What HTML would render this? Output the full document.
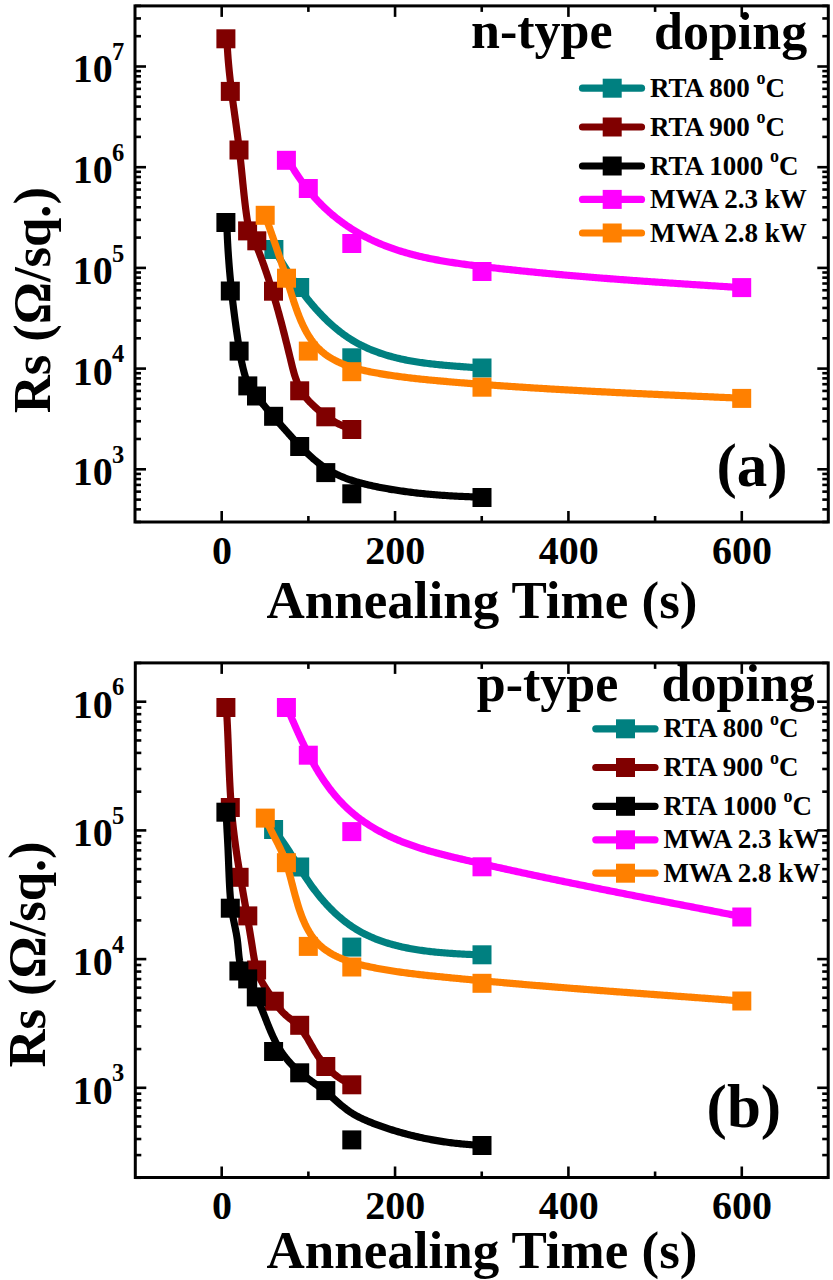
<!DOCTYPE html>
<html><head><meta charset="utf-8"><title>Rs vs annealing time</title>
<style>html,body{margin:0;padding:0;background:#fff;}svg{display:block;}</style>
</head><body>
<svg width="833" height="1280" viewBox="0 0 833 1280">
<rect width="833" height="1280" fill="#fff"/>
<path d="M274.18 249.74 L274.93 250.97 L275.67 252.21 L276.43 253.45 L277.19 254.69 L277.95 255.94 L278.72 257.18 L279.49 258.43 L280.26 259.69 L281.04 260.94 L281.83 262.20 L282.62 263.45 L283.41 264.71 L284.21 265.97 L285.02 267.23 L285.83 268.49 L286.64 269.75 L287.46 271.01 L288.29 272.27 L289.12 273.53 L289.95 274.79 L290.80 276.04 L291.64 277.30 L292.49 278.56 L293.35 279.81 L294.21 281.06 L295.08 282.31 L295.96 283.55 L296.84 284.80 L297.72 286.04 L298.62 287.28 L299.52 288.51 L300.42 289.74 L301.33 290.97 L302.25 292.19 L303.17 293.41 L304.10 294.63 L305.03 295.84 L305.97 297.04 L306.92 298.24 L307.88 299.43 L308.84 300.62 L309.80 301.81 L310.78 302.98 L311.76 304.15 L312.75 305.32 L313.74 306.47 L314.74 307.62 L315.75 308.77 L316.76 309.90 L317.79 311.03 L318.82 312.15 L319.85 313.26 L320.90 314.36 L321.95 315.45 L323.01 316.54 L324.07 317.61 L325.15 318.68 L326.23 319.74 L327.32 320.78 L328.41 321.82 L329.52 322.85 L330.63 323.86 L331.75 324.87 L332.87 325.86 L334.01 326.85 L335.15 327.82 L336.30 328.78 L337.46 329.73 L338.63 330.66 L339.81 331.59 L340.99 332.50 L342.18 333.39 L343.38 334.28 L344.59 335.15 L345.81 336.01 L347.04 336.85 L348.27 337.68 L349.52 338.50 L350.77 339.30 L352.03 340.09 L353.30 340.86 L354.58 341.61 L355.87 342.35 L357.17 343.08 L358.47 343.79 L359.79 344.49 L361.11 345.17 L362.44 345.83 L363.78 346.48 L365.13 347.12 L366.48 347.74 L367.84 348.35 L369.21 348.95 L370.59 349.53 L371.97 350.10 L373.36 350.65 L374.76 351.19 L376.16 351.72 L377.57 352.24 L378.99 352.74 L380.41 353.23 L381.83 353.71 L383.26 354.18 L384.70 354.63 L386.14 355.08 L387.59 355.51 L389.04 355.93 L390.50 356.34 L391.96 356.74 L393.43 357.13 L394.90 357.50 L396.37 357.87 L397.85 358.23 L399.33 358.57 L400.81 358.91 L402.30 359.24 L403.79 359.55 L405.28 359.86 L406.78 360.16 L408.27 360.45 L409.77 360.73 L411.28 361.00 L412.78 361.27 L414.28 361.52 L415.79 361.77 L417.30 362.01 L418.81 362.24 L420.32 362.46 L421.83 362.68 L423.34 362.89 L424.86 363.09 L426.37 363.29 L427.88 363.48 L429.40 363.66 L430.91 363.84 L432.42 364.01 L433.94 364.18 L435.45 364.34 L436.97 364.50 L438.48 364.65 L439.99 364.80 L441.50 364.94 L443.01 365.08 L444.53 365.22 L446.04 365.35 L447.54 365.48 L449.05 365.61 L450.56 365.74 L452.06 365.86 L453.57 365.98 L455.07 366.10 L456.57 366.22 L458.07 366.34 L459.57 366.45 L461.06 366.57 L462.55 366.68 L464.05 366.80 L465.53 366.91 L467.02 367.03 L468.50 367.14 L469.99 367.26 L471.46 367.38 L472.94 367.50 L474.41 367.62 L475.88 367.74 L477.35 367.87 L478.81 368.00 L480.27 368.13 L481.73 368.26" fill="none" stroke="#008080" stroke-width="7.2" stroke-linejoin="round" stroke-linecap="round"/>
<rect x="264.40" y="240.00" width="19.00" height="19.00" fill="#008080"/>
<rect x="290.20" y="278.00" width="19.00" height="19.00" fill="#008080"/>
<rect x="342.30" y="348.30" width="19.00" height="19.00" fill="#008080"/>
<rect x="472.50" y="358.50" width="19.00" height="19.00" fill="#008080"/>
<path d="M226.98 38.74 L227.03 40.25 L227.09 41.77 L227.16 43.29 L227.23 44.80 L227.30 46.31 L227.38 47.83 L227.47 49.34 L227.56 50.85 L227.66 52.36 L227.76 53.87 L227.87 55.38 L227.98 56.89 L228.09 58.39 L228.21 59.90 L228.34 61.41 L228.47 62.91 L228.60 64.42 L228.74 65.92 L228.88 67.43 L229.02 68.93 L229.17 70.43 L229.32 71.93 L229.48 73.44 L229.63 74.94 L229.80 76.44 L229.96 77.94 L230.13 79.44 L230.30 80.94 L230.47 82.44 L230.65 83.94 L230.83 85.43 L231.01 86.93 L231.19 88.43 L231.38 89.93 L231.57 91.42 L231.76 92.92 L231.95 94.42 L232.14 95.91 L232.34 97.41 L232.53 98.91 L232.73 100.40 L232.93 101.90 L233.13 103.39 L233.33 104.89 L233.54 106.38 L233.74 107.88 L233.95 109.37 L234.15 110.87 L234.36 112.36 L234.56 113.86 L234.77 115.35 L234.97 116.85 L235.18 118.34 L235.39 119.84 L235.59 121.33 L235.80 122.83 L236.01 124.33 L236.21 125.82 L236.41 127.32 L236.62 128.81 L236.82 130.31 L237.02 131.81 L237.22 133.30 L237.42 134.80 L237.62 136.30 L237.82 137.79 L238.02 139.29 L238.21 140.79 L238.40 142.29 L238.59 143.79 L238.78 145.29 L238.97 146.78 L239.15 148.28 L239.33 149.78 L239.51 151.29 L239.69 152.79 L239.86 154.29 L240.04 155.79 L240.20 157.29 L240.37 158.80 L240.53 160.30 L240.70 161.80 L240.86 163.31 L241.01 164.81 L241.17 166.32 L241.32 167.82 L241.48 169.33 L241.63 170.83 L241.78 172.34 L241.93 173.84 L242.08 175.35 L242.23 176.86 L242.38 178.36 L242.52 179.87 L242.67 181.37 L242.82 182.87 L242.97 184.38 L243.13 185.88 L243.28 187.39 L243.43 188.89 L243.59 190.39 L243.74 191.89 L243.90 193.39 L244.06 194.89 L244.23 196.39 L244.39 197.89 L244.56 199.39 L244.73 200.89 L244.90 202.38 L245.08 203.88 L245.26 205.37 L245.44 206.87 L245.63 208.36 L245.82 209.85 L246.02 211.34 L246.22 212.83 L246.42 214.31 L246.63 215.80 L246.85 217.28 L247.08 218.76 L247.33 220.24 L247.60 221.71 L247.89 223.17 L248.21 224.62 L248.56 226.07 L248.95 227.50 L249.38 228.92 L249.85 230.33 L250.37 231.73 L250.92 233.11 L251.50 234.49 L252.10 235.87 L252.71 237.24 L253.33 238.61 L253.94 239.99 L254.54 241.37 L255.14 242.76 L255.73 244.15 L256.31 245.54 L256.89 246.94 L257.46 248.34 L258.02 249.75 L258.58 251.15 L259.13 252.56 L259.68 253.98 L260.22 255.39 L260.75 256.81 L261.28 258.23 L261.81 259.65 L262.33 261.07 L262.85 262.49 L263.36 263.92 L263.87 265.34 L264.37 266.77 L264.87 268.19 L265.37 269.62 L265.86 271.05 L266.35 272.48 L266.83 273.91 L267.31 275.34 L267.79 276.77 L268.26 278.20 L268.73 279.63 L269.20 281.06 L269.66 282.50 L270.12 283.93 L270.58 285.37 L271.03 286.81 L271.48 288.24 L271.92 289.68 L272.36 291.12 L272.80 292.56 L273.24 294.00 L273.67 295.45 L274.10 296.89 L274.53 298.33 L274.96 299.78 L275.38 301.22 L275.80 302.67 L276.21 304.11 L276.63 305.56 L277.04 307.01 L277.45 308.46 L277.85 309.91 L278.26 311.36 L278.66 312.81 L279.06 314.27 L279.45 315.72 L279.85 317.17 L280.24 318.63 L280.63 320.09 L281.02 321.54 L281.41 323.00 L281.79 324.46 L282.18 325.92 L282.56 327.38 L282.94 328.84 L283.31 330.30 L283.69 331.76 L284.07 333.23 L284.44 334.69 L284.81 336.16 L285.18 337.62 L285.55 339.09 L285.92 340.56 L286.29 342.03 L286.65 343.50 L287.02 344.97 L287.38 346.44 L287.74 347.91 L288.10 349.38 L288.47 350.86 L288.83 352.33 L289.19 353.81 L289.54 355.28 L289.90 356.76 L290.26 358.24 L290.62 359.72 L290.97 361.20 L291.33 362.67 L291.69 364.15 L292.05 365.63 L292.42 367.10 L292.80 368.57 L293.19 370.04 L293.59 371.50 L294.00 372.95 L294.42 374.39 L294.87 375.83 L295.33 377.25 L295.81 378.67 L296.31 380.07 L296.83 381.45 L297.38 382.83 L297.96 384.19 L298.56 385.53 L299.19 386.85 L299.86 388.16 L300.55 389.45 L301.27 390.73 L302.03 391.98 L302.82 393.22 L303.64 394.44 L304.49 395.65 L305.37 396.83 L306.29 398.00 L307.24 399.15 L308.23 400.28 L309.24 401.40 L310.29 402.50 L311.36 403.58 L312.45 404.65 L313.55 405.70 L314.67 406.74 L315.80 407.77 L316.93 408.78 L318.08 409.78 L319.23 410.77 L320.39 411.74 L321.56 412.70 L322.74 413.64 L323.93 414.56 L325.13 415.47 L326.34 416.36 L327.56 417.23 L328.79 418.09 L330.03 418.92 L331.29 419.74 L332.56 420.53 L333.84 421.30 L335.14 422.05 L336.44 422.78 L337.77 423.49 L339.10 424.17 L340.45 424.83 L341.82 425.46 L343.20 426.07 L344.60 426.66 L346.01 427.21 L347.44 427.75 L348.89 428.25 L350.36 428.72 L351.84 429.17" fill="none" stroke="#800000" stroke-width="7.2" stroke-linejoin="round" stroke-linecap="round"/>
<rect x="216.40" y="29.30" width="19.00" height="19.00" fill="#800000"/>
<rect x="220.80" y="81.90" width="19.00" height="19.00" fill="#800000"/>
<rect x="229.50" y="140.50" width="19.00" height="19.00" fill="#800000"/>
<rect x="238.10" y="221.40" width="19.00" height="19.00" fill="#800000"/>
<rect x="247.30" y="231.30" width="19.00" height="19.00" fill="#800000"/>
<rect x="264.00" y="281.70" width="19.00" height="19.00" fill="#800000"/>
<rect x="290.20" y="381.30" width="19.00" height="19.00" fill="#800000"/>
<rect x="316.30" y="407.30" width="19.00" height="19.00" fill="#800000"/>
<rect x="342.30" y="420.00" width="19.00" height="19.00" fill="#800000"/>
<path d="M226.82 222.41 L226.86 223.93 L226.91 225.45 L226.96 226.96 L227.01 228.48 L227.06 229.99 L227.12 231.51 L227.18 233.02 L227.24 234.53 L227.31 236.04 L227.37 237.55 L227.44 239.06 L227.52 240.57 L227.60 242.07 L227.68 243.58 L227.76 245.09 L227.84 246.59 L227.93 248.10 L228.02 249.60 L228.11 251.10 L228.21 252.61 L228.31 254.11 L228.41 255.61 L228.51 257.11 L228.62 258.61 L228.73 260.11 L228.84 261.61 L228.96 263.11 L229.07 264.61 L229.19 266.10 L229.31 267.60 L229.44 269.10 L229.57 270.59 L229.70 272.09 L229.83 273.58 L229.96 275.08 L230.10 276.57 L230.24 278.07 L230.38 279.56 L230.52 281.06 L230.67 282.55 L230.82 284.04 L230.97 285.54 L231.12 287.03 L231.28 288.52 L231.43 290.02 L231.59 291.51 L231.76 293.00 L231.92 294.49 L232.09 295.99 L232.26 297.48 L232.43 298.97 L232.60 300.46 L232.77 301.95 L232.95 303.45 L233.13 304.94 L233.31 306.43 L233.50 307.92 L233.68 309.41 L233.87 310.91 L234.06 312.40 L234.25 313.89 L234.44 315.38 L234.64 316.88 L234.84 318.37 L235.04 319.86 L235.24 321.36 L235.44 322.85 L235.65 324.34 L235.85 325.84 L236.06 327.33 L236.27 328.83 L236.48 330.32 L236.70 331.82 L236.91 333.31 L237.13 334.81 L237.35 336.31 L237.57 337.80 L237.79 339.30 L238.02 340.80 L238.25 342.30 L238.47 343.80 L238.71 345.30 L238.94 346.79 L239.18 348.29 L239.42 349.79 L239.67 351.28 L239.93 352.77 L240.19 354.26 L240.46 355.75 L240.73 357.24 L241.01 358.72 L241.31 360.20 L241.61 361.68 L241.91 363.15 L242.23 364.62 L242.56 366.08 L242.90 367.54 L243.26 369.00 L243.62 370.45 L244.00 371.89 L244.39 373.33 L244.79 374.76 L245.22 376.18 L245.67 377.59 L246.15 378.99 L246.66 380.36 L247.21 381.72 L247.81 383.06 L248.45 384.37 L249.14 385.66 L249.89 386.92 L250.68 388.15 L251.51 389.37 L252.37 390.57 L253.25 391.76 L254.14 392.95 L255.03 394.13 L255.94 395.31 L256.85 396.49 L257.76 397.66 L258.68 398.83 L259.61 400.00 L260.54 401.16 L261.48 402.33 L262.42 403.49 L263.36 404.64 L264.32 405.80 L265.27 406.95 L266.23 408.10 L267.20 409.25 L268.16 410.40 L269.14 411.55 L270.11 412.69 L271.09 413.83 L272.07 414.97 L273.06 416.11 L274.05 417.25 L275.04 418.39 L276.03 419.53 L277.03 420.66 L278.03 421.79 L279.03 422.93 L280.04 424.06 L281.04 425.19 L282.05 426.32 L283.06 427.45 L284.07 428.58 L285.08 429.71 L286.09 430.84 L287.10 431.97 L288.12 433.10 L289.13 434.23 L290.15 435.36 L291.16 436.49 L292.18 437.61 L293.21 438.74 L294.23 439.86 L295.26 440.97 L296.29 442.09 L297.32 443.19 L298.36 444.30 L299.40 445.39 L300.44 446.48 L301.49 447.57 L302.55 448.65 L303.61 449.72 L304.68 450.78 L305.75 451.83 L306.83 452.87 L307.92 453.91 L309.01 454.93 L310.11 455.94 L311.22 456.94 L312.33 457.93 L313.46 458.91 L314.59 459.87 L315.74 460.83 L316.89 461.76 L318.05 462.68 L319.22 463.59 L320.40 464.48 L321.60 465.36 L322.80 466.22 L324.02 467.06 L325.24 467.88 L326.48 468.69 L327.73 469.48 L329.00 470.25 L330.27 470.99 L331.56 471.72 L332.87 472.43 L334.18 473.12 L335.51 473.79 L336.85 474.44 L338.20 475.08 L339.56 475.69 L340.93 476.29 L342.31 476.87 L343.70 477.44 L345.10 477.99 L346.51 478.52 L347.93 479.04 L349.35 479.54 L350.79 480.03 L352.23 480.51 L353.67 480.97 L355.12 481.42 L356.58 481.85 L358.05 482.28 L359.51 482.69 L360.99 483.09 L362.46 483.48 L363.95 483.86 L365.43 484.23 L366.92 484.59 L368.41 484.94 L369.90 485.28 L371.39 485.61 L372.89 485.94 L374.38 486.25 L375.88 486.56 L377.38 486.87 L378.87 487.16 L380.37 487.45 L381.86 487.74 L383.35 488.02 L384.85 488.29 L386.34 488.56 L387.83 488.82 L389.31 489.08 L390.80 489.33 L392.29 489.58 L393.78 489.82 L395.26 490.06 L396.75 490.29 L398.23 490.52 L399.72 490.74 L401.20 490.96 L402.69 491.17 L404.17 491.38 L405.65 491.58 L407.14 491.78 L408.62 491.98 L410.10 492.17 L411.58 492.35 L413.07 492.53 L414.55 492.71 L416.03 492.88 L417.51 493.05 L419.00 493.22 L420.48 493.38 L421.97 493.53 L423.45 493.68 L424.93 493.83 L426.42 493.98 L427.90 494.12 L429.39 494.25 L430.88 494.39 L432.37 494.52 L433.85 494.64 L435.34 494.77 L436.83 494.89 L438.32 495.00 L439.82 495.11 L441.31 495.22 L442.80 495.33 L444.30 495.43 L445.79 495.53 L447.29 495.63 L448.79 495.73 L450.29 495.82 L451.79 495.90 L453.30 495.99 L454.80 496.07 L456.31 496.15 L457.82 496.23 L459.33 496.31 L460.84 496.38 L462.35 496.45 L463.86 496.52 L465.38 496.58 L466.90 496.65 L468.42 496.71 L469.94 496.77 L471.47 496.82 L473.00 496.88 L474.53 496.93 L476.06 496.98 L477.59 497.03 L479.13 497.08 L480.67 497.13 L482.21 497.17" fill="none" stroke="#000000" stroke-width="7.2" stroke-linejoin="round" stroke-linecap="round"/>
<rect x="216.40" y="213.00" width="19.00" height="19.00" fill="#000000"/>
<rect x="220.80" y="281.50" width="19.00" height="19.00" fill="#000000"/>
<rect x="229.60" y="341.60" width="19.00" height="19.00" fill="#000000"/>
<rect x="238.30" y="376.40" width="19.00" height="19.00" fill="#000000"/>
<rect x="247.00" y="386.50" width="19.00" height="19.00" fill="#000000"/>
<rect x="264.10" y="406.80" width="19.00" height="19.00" fill="#000000"/>
<rect x="290.20" y="437.00" width="19.00" height="19.00" fill="#000000"/>
<rect x="316.30" y="463.10" width="19.00" height="19.00" fill="#000000"/>
<rect x="342.30" y="484.30" width="19.00" height="19.00" fill="#000000"/>
<rect x="472.50" y="488.00" width="19.00" height="19.00" fill="#000000"/>
<path d="M287.67 159.36 L288.42 160.66 L289.17 161.96 L289.93 163.26 L290.70 164.55 L291.47 165.84 L292.26 167.13 L293.05 168.41 L293.85 169.69 L294.66 170.96 L295.48 172.23 L296.31 173.49 L297.15 174.75 L297.99 176.01 L298.84 177.26 L299.70 178.50 L300.57 179.74 L301.45 180.97 L302.34 182.20 L303.23 183.42 L304.14 184.63 L305.05 185.84 L305.97 187.04 L306.90 188.23 L307.84 189.42 L308.79 190.60 L309.75 191.77 L310.72 192.94 L311.69 194.09 L312.67 195.24 L313.67 196.39 L314.67 197.52 L315.68 198.64 L316.70 199.76 L317.73 200.87 L318.77 201.97 L319.82 203.05 L320.88 204.13 L321.94 205.21 L323.02 206.27 L324.10 207.32 L325.20 208.36 L326.30 209.39 L327.41 210.41 L328.53 211.42 L329.67 212.42 L330.80 213.41 L331.95 214.40 L333.11 215.37 L334.27 216.33 L335.44 217.28 L336.62 218.22 L337.81 219.15 L339.01 220.07 L340.21 220.98 L341.42 221.88 L342.64 222.77 L343.87 223.64 L345.10 224.51 L346.34 225.37 L347.58 226.22 L348.84 227.05 L350.10 227.88 L351.36 228.69 L352.63 229.50 L353.91 230.29 L355.20 231.08 L356.49 231.85 L357.78 232.61 L359.08 233.36 L360.39 234.10 L361.70 234.83 L363.02 235.55 L364.34 236.26 L365.67 236.95 L367.01 237.64 L368.34 238.32 L369.68 238.98 L371.03 239.63 L372.38 240.27 L373.74 240.91 L375.10 241.53 L376.46 242.14 L377.83 242.74 L379.20 243.32 L380.57 243.90 L381.95 244.47 L383.34 245.03 L384.72 245.58 L386.12 246.12 L387.51 246.65 L388.91 247.17 L390.31 247.68 L391.72 248.18 L393.13 248.68 L394.54 249.16 L395.95 249.63 L397.37 250.10 L398.80 250.56 L400.22 251.01 L401.65 251.45 L403.08 251.88 L404.52 252.31 L405.95 252.72 L407.39 253.13 L408.84 253.53 L410.28 253.93 L411.73 254.31 L413.18 254.69 L414.64 255.06 L416.09 255.43 L417.55 255.79 L419.01 256.14 L420.48 256.48 L421.94 256.82 L423.41 257.15 L424.88 257.48 L426.35 257.80 L427.83 258.11 L429.30 258.42 L430.78 258.72 L432.26 259.02 L433.74 259.31 L435.23 259.59 L436.71 259.87 L438.20 260.15 L439.69 260.42 L441.18 260.68 L442.67 260.94 L444.16 261.20 L445.66 261.45 L447.15 261.69 L448.65 261.94 L450.15 262.18 L451.65 262.41 L453.15 262.64 L454.65 262.87 L456.15 263.09 L457.65 263.31 L459.16 263.53 L460.66 263.74 L462.16 263.95 L463.67 264.16 L465.18 264.36 L466.68 264.56 L468.19 264.76 L469.70 264.96 L471.21 265.15 L472.71 265.34 L474.22 265.53 L475.73 265.72 L477.24 265.91 L478.75 266.09 L480.25 266.28 L481.76 266.46 L483.27 266.64 L484.78 266.82 L486.29 266.99 L487.79 267.17 L489.30 267.35 L490.81 267.52 L492.31 267.70 L493.82 267.87 L495.33 268.04 L496.83 268.21 L498.34 268.38 L499.84 268.55 L501.35 268.72 L502.85 268.88 L504.36 269.05 L505.86 269.21 L507.36 269.38 L508.87 269.54 L510.37 269.70 L511.87 269.87 L513.38 270.03 L514.88 270.19 L516.38 270.34 L517.88 270.50 L519.39 270.66 L520.89 270.81 L522.39 270.97 L523.89 271.12 L525.39 271.28 L526.89 271.43 L528.40 271.58 L529.90 271.73 L531.40 271.88 L532.90 272.03 L534.40 272.18 L535.90 272.33 L537.40 272.47 L538.90 272.62 L540.40 272.76 L541.90 272.91 L543.40 273.05 L544.90 273.19 L546.40 273.33 L547.90 273.48 L549.40 273.62 L550.90 273.76 L552.39 273.89 L553.89 274.03 L555.39 274.17 L556.89 274.31 L558.39 274.44 L559.89 274.58 L561.39 274.71 L562.88 274.85 L564.38 274.98 L565.88 275.11 L567.38 275.24 L568.88 275.37 L570.38 275.50 L571.87 275.63 L573.37 275.76 L574.87 275.89 L576.37 276.02 L577.87 276.15 L579.36 276.27 L580.86 276.40 L582.36 276.52 L583.86 276.65 L585.35 276.77 L586.85 276.90 L588.35 277.02 L589.85 277.14 L591.35 277.26 L592.84 277.39 L594.34 277.51 L595.84 277.63 L597.34 277.75 L598.83 277.86 L600.33 277.98 L601.83 278.10 L603.33 278.22 L604.83 278.34 L606.33 278.45 L607.82 278.57 L609.32 278.68 L610.82 278.80 L612.32 278.91 L613.82 279.03 L615.32 279.14 L616.81 279.25 L618.31 279.37 L619.81 279.48 L621.31 279.59 L622.81 279.70 L624.31 279.81 L625.81 279.92 L627.31 280.03 L628.81 280.14 L630.31 280.25 L631.81 280.36 L633.31 280.47 L634.81 280.58 L636.31 280.68 L637.81 280.79 L639.31 280.90 L640.81 281.00 L642.31 281.11 L643.81 281.22 L645.31 281.32 L646.81 281.43 L648.31 281.53 L649.81 281.64 L651.31 281.74 L652.82 281.85 L654.32 281.95 L655.82 282.05 L657.32 282.16 L658.83 282.26 L660.33 282.36 L661.83 282.46 L663.34 282.57 L664.84 282.67 L666.34 282.77 L667.85 282.87 L669.35 282.97 L670.86 283.07 L672.36 283.17 L673.87 283.27 L675.37 283.37 L676.88 283.47 L678.38 283.57 L679.89 283.67 L681.39 283.77 L682.90 283.87 L684.41 283.97 L685.91 284.07 L687.42 284.17 L688.93 284.27 L690.44 284.37 L691.95 284.47 L693.45 284.57 L694.96 284.66 L696.47 284.76 L697.98 284.86 L699.49 284.96 L701.00 285.06 L702.51 285.15 L704.02 285.25 L705.53 285.35 L707.04 285.45 L708.56 285.54 L710.07 285.64 L711.58 285.74 L713.09 285.84 L714.61 285.93 L716.12 286.03 L717.63 286.13 L719.15 286.23 L720.66 286.32 L722.18 286.42 L723.69 286.52 L725.21 286.62 L726.73 286.71 L728.24 286.81 L729.76 286.91 L731.28 287.01 L732.80 287.10 L734.31 287.20 L735.83 287.30 L737.35 287.40 L738.87 287.50 L740.39 287.59 L741.91 287.69" fill="none" stroke="#FF00FF" stroke-width="7.2" stroke-linejoin="round" stroke-linecap="round"/>
<rect x="276.90" y="150.80" width="19.00" height="19.00" fill="#FF00FF"/>
<rect x="298.80" y="179.00" width="19.00" height="19.00" fill="#FF00FF"/>
<rect x="342.30" y="234.00" width="19.00" height="19.00" fill="#FF00FF"/>
<rect x="472.50" y="262.00" width="19.00" height="19.00" fill="#FF00FF"/>
<rect x="732.20" y="278.10" width="19.00" height="19.00" fill="#FF00FF"/>
<path d="M265.07 215.26 L265.59 216.71 L266.10 218.17 L266.62 219.61 L267.13 221.06 L267.64 222.50 L268.15 223.94 L268.66 225.37 L269.16 226.81 L269.67 228.24 L270.17 229.66 L270.67 231.09 L271.17 232.52 L271.66 233.94 L272.16 235.36 L272.65 236.78 L273.14 238.19 L273.63 239.61 L274.12 241.03 L274.61 242.44 L275.09 243.85 L275.58 245.26 L276.06 246.68 L276.54 248.09 L277.02 249.50 L277.50 250.91 L277.97 252.32 L278.45 253.73 L278.92 255.14 L279.40 256.55 L279.87 257.96 L280.34 259.37 L280.81 260.78 L281.28 262.20 L281.74 263.61 L282.21 265.03 L282.67 266.44 L283.14 267.86 L283.60 269.28 L284.06 270.70 L284.52 272.12 L284.98 273.55 L285.44 274.98 L285.89 276.40 L286.35 277.84 L286.81 279.27 L287.26 280.71 L287.72 282.15 L288.17 283.59 L288.62 285.03 L289.07 286.48 L289.52 287.93 L289.97 289.39 L290.43 290.84 L290.88 292.30 L291.34 293.76 L291.79 295.22 L292.25 296.69 L292.72 298.15 L293.19 299.61 L293.66 301.07 L294.14 302.53 L294.63 303.99 L295.12 305.44 L295.62 306.90 L296.12 308.35 L296.64 309.80 L297.17 311.24 L297.70 312.68 L298.25 314.12 L298.80 315.55 L299.37 316.98 L299.95 318.40 L300.54 319.82 L301.15 321.23 L301.77 322.63 L302.40 324.02 L303.05 325.41 L303.71 326.78 L304.39 328.14 L305.09 329.50 L305.80 330.84 L306.53 332.16 L307.28 333.47 L308.04 334.77 L308.82 336.04 L309.62 337.30 L310.44 338.54 L311.28 339.77 L312.14 340.97 L313.02 342.15 L313.92 343.30 L314.85 344.43 L315.79 345.54 L316.75 346.62 L317.74 347.68 L318.75 348.71 L319.79 349.71 L320.84 350.68 L321.92 351.63 L323.02 352.55 L324.14 353.44 L325.28 354.31 L326.44 355.15 L327.62 355.97 L328.82 356.76 L330.03 357.53 L331.27 358.28 L332.52 359.00 L333.79 359.71 L335.07 360.39 L336.37 361.05 L337.68 361.69 L339.01 362.31 L340.35 362.91 L341.71 363.49 L343.08 364.05 L344.46 364.60 L345.85 365.13 L347.26 365.64 L348.67 366.13 L350.10 366.61 L351.53 367.07 L352.97 367.52 L354.42 367.95 L355.88 368.37 L357.35 368.78 L358.82 369.17 L360.30 369.55 L361.79 369.92 L363.28 370.28 L364.78 370.62 L366.28 370.96 L367.78 371.29 L369.29 371.60 L370.80 371.91 L372.31 372.21 L373.82 372.50 L375.34 372.78 L376.85 373.06 L378.37 373.33 L379.88 373.60 L381.39 373.86 L382.90 374.11 L384.42 374.36 L385.92 374.61 L387.43 374.84 L388.94 375.08 L390.45 375.31 L391.95 375.53 L393.46 375.75 L394.96 375.97 L396.46 376.18 L397.96 376.39 L399.47 376.59 L400.97 376.79 L402.47 376.99 L403.96 377.18 L405.46 377.37 L406.96 377.55 L408.46 377.73 L409.95 377.91 L411.45 378.09 L412.94 378.26 L414.44 378.43 L415.93 378.59 L417.43 378.76 L418.92 378.92 L420.41 379.07 L421.91 379.23 L423.40 379.38 L424.89 379.53 L426.39 379.68 L427.88 379.83 L429.37 379.97 L430.86 380.11 L432.35 380.25 L433.84 380.39 L435.34 380.53 L436.83 380.67 L438.32 380.80 L439.81 380.94 L441.30 381.07 L442.80 381.20 L444.29 381.33 L445.78 381.46 L447.27 381.59 L448.77 381.72 L450.26 381.84 L451.75 381.97 L453.25 382.10 L454.74 382.22 L456.24 382.35 L457.73 382.47 L459.22 382.60 L460.72 382.72 L462.21 382.84 L463.71 382.96 L465.20 383.08 L466.70 383.20 L468.20 383.32 L469.69 383.44 L471.19 383.56 L472.68 383.68 L474.18 383.79 L475.68 383.91 L477.17 384.02 L478.67 384.14 L480.17 384.25 L481.67 384.37 L483.16 384.48 L484.66 384.59 L486.16 384.70 L487.66 384.81 L489.16 384.93 L490.65 385.04 L492.15 385.14 L493.65 385.25 L495.15 385.36 L496.65 385.47 L498.15 385.58 L499.65 385.68 L501.15 385.79 L502.65 385.89 L504.15 386.00 L505.65 386.10 L507.15 386.21 L508.65 386.31 L510.15 386.41 L511.65 386.51 L513.15 386.61 L514.65 386.71 L516.15 386.81 L517.65 386.91 L519.16 387.01 L520.66 387.11 L522.16 387.21 L523.66 387.31 L525.16 387.41 L526.66 387.50 L528.17 387.60 L529.67 387.69 L531.17 387.79 L532.67 387.88 L534.18 387.98 L535.68 388.07 L537.18 388.17 L538.68 388.26 L540.19 388.35 L541.69 388.44 L543.19 388.53 L544.70 388.62 L546.20 388.71 L547.70 388.81 L549.21 388.89 L550.71 388.98 L552.21 389.07 L553.72 389.16 L555.22 389.25 L556.73 389.34 L558.23 389.42 L559.73 389.51 L561.24 389.60 L562.74 389.68 L564.25 389.77 L565.75 389.85 L567.25 389.94 L568.76 390.02 L570.26 390.11 L571.77 390.19 L573.27 390.27 L574.78 390.36 L576.28 390.44 L577.79 390.52 L579.29 390.60 L580.80 390.68 L582.30 390.76 L583.81 390.84 L585.31 390.93 L586.81 391.01 L588.32 391.08 L589.82 391.16 L591.33 391.24 L592.84 391.32 L594.34 391.40 L595.85 391.48 L597.35 391.56 L598.86 391.63 L600.36 391.71 L601.87 391.79 L603.37 391.86 L604.88 391.94 L606.38 392.02 L607.89 392.09 L609.39 392.17 L610.90 392.24 L612.40 392.32 L613.91 392.39 L615.41 392.47 L616.92 392.54 L618.42 392.62 L619.93 392.69 L621.43 392.76 L622.94 392.84 L624.44 392.91 L625.95 392.98 L627.45 393.05 L628.96 393.13 L630.46 393.20 L631.97 393.27 L633.47 393.34 L634.98 393.41 L636.48 393.49 L637.99 393.56 L639.49 393.63 L641.00 393.70 L642.50 393.77 L644.01 393.84 L645.51 393.91 L647.02 393.98 L648.52 394.05 L650.02 394.12 L651.53 394.19 L653.03 394.26 L654.54 394.33 L656.04 394.40 L657.55 394.47 L659.05 394.54 L660.55 394.60 L662.06 394.67 L663.56 394.74 L665.07 394.81 L666.57 394.88 L668.07 394.95 L669.58 395.02 L671.08 395.08 L672.58 395.15 L674.09 395.22 L675.59 395.29 L677.09 395.35 L678.60 395.42 L680.10 395.49 L681.60 395.56 L683.10 395.62 L684.61 395.69 L686.11 395.76 L687.61 395.83 L689.11 395.89 L690.62 395.96 L692.12 396.03 L693.62 396.09 L695.12 396.16 L696.62 396.23 L698.13 396.30 L699.63 396.36 L701.13 396.43 L702.63 396.50 L704.13 396.56 L705.63 396.63 L707.13 396.70 L708.63 396.76 L710.13 396.83 L711.63 396.90 L713.13 396.97 L714.63 397.03 L716.13 397.10 L717.63 397.17 L719.13 397.23 L720.63 397.30 L722.13 397.37 L723.63 397.44 L725.13 397.50 L726.63 397.57 L728.13 397.64 L729.63 397.70 L731.13 397.77 L732.62 397.84 L734.12 397.91 L735.62 397.98 L737.12 398.04 L738.61 398.11 L740.11 398.18 L741.61 398.25" fill="none" stroke="#FF8000" stroke-width="7.2" stroke-linejoin="round" stroke-linecap="round"/>
<rect x="255.70" y="205.80" width="19.00" height="19.00" fill="#FF8000"/>
<rect x="277.00" y="268.70" width="19.00" height="19.00" fill="#FF8000"/>
<rect x="298.80" y="341.60" width="19.00" height="19.00" fill="#FF8000"/>
<rect x="342.30" y="362.20" width="19.00" height="19.00" fill="#FF8000"/>
<rect x="472.50" y="377.70" width="19.00" height="19.00" fill="#FF8000"/>
<rect x="732.20" y="388.90" width="19.00" height="19.00" fill="#FF8000"/>
<g stroke="#000" stroke-width="2.6" fill="none"><line x1="135.00" y1="521.95" x2="141.00" y2="521.95"/><line x1="828.30" y1="521.95" x2="822.30" y2="521.95"/><line x1="135.00" y1="509.37" x2="141.00" y2="509.37"/><line x1="828.30" y1="509.37" x2="822.30" y2="509.37"/><line x1="135.00" y1="499.61" x2="141.00" y2="499.61"/><line x1="828.30" y1="499.61" x2="822.30" y2="499.61"/><line x1="135.00" y1="491.64" x2="141.00" y2="491.64"/><line x1="828.30" y1="491.64" x2="822.30" y2="491.64"/><line x1="135.00" y1="484.90" x2="141.00" y2="484.90"/><line x1="828.30" y1="484.90" x2="822.30" y2="484.90"/><line x1="135.00" y1="479.06" x2="141.00" y2="479.06"/><line x1="828.30" y1="479.06" x2="822.30" y2="479.06"/><line x1="135.00" y1="473.91" x2="141.00" y2="473.91"/><line x1="828.30" y1="473.91" x2="822.30" y2="473.91"/><line x1="135.00" y1="469.30" x2="146.00" y2="469.30"/><line x1="828.30" y1="469.30" x2="817.30" y2="469.30"/><line x1="135.00" y1="438.99" x2="141.00" y2="438.99"/><line x1="828.30" y1="438.99" x2="822.30" y2="438.99"/><line x1="135.00" y1="421.25" x2="141.00" y2="421.25"/><line x1="828.30" y1="421.25" x2="822.30" y2="421.25"/><line x1="135.00" y1="408.67" x2="141.00" y2="408.67"/><line x1="828.30" y1="408.67" x2="822.30" y2="408.67"/><line x1="135.00" y1="398.91" x2="141.00" y2="398.91"/><line x1="828.30" y1="398.91" x2="822.30" y2="398.91"/><line x1="135.00" y1="390.94" x2="141.00" y2="390.94"/><line x1="828.30" y1="390.94" x2="822.30" y2="390.94"/><line x1="135.00" y1="384.20" x2="141.00" y2="384.20"/><line x1="828.30" y1="384.20" x2="822.30" y2="384.20"/><line x1="135.00" y1="378.36" x2="141.00" y2="378.36"/><line x1="828.30" y1="378.36" x2="822.30" y2="378.36"/><line x1="135.00" y1="373.21" x2="141.00" y2="373.21"/><line x1="828.30" y1="373.21" x2="822.30" y2="373.21"/><line x1="135.00" y1="368.60" x2="146.00" y2="368.60"/><line x1="828.30" y1="368.60" x2="817.30" y2="368.60"/><line x1="135.00" y1="338.29" x2="141.00" y2="338.29"/><line x1="828.30" y1="338.29" x2="822.30" y2="338.29"/><line x1="135.00" y1="320.55" x2="141.00" y2="320.55"/><line x1="828.30" y1="320.55" x2="822.30" y2="320.55"/><line x1="135.00" y1="307.97" x2="141.00" y2="307.97"/><line x1="828.30" y1="307.97" x2="822.30" y2="307.97"/><line x1="135.00" y1="298.21" x2="141.00" y2="298.21"/><line x1="828.30" y1="298.21" x2="822.30" y2="298.21"/><line x1="135.00" y1="290.24" x2="141.00" y2="290.24"/><line x1="828.30" y1="290.24" x2="822.30" y2="290.24"/><line x1="135.00" y1="283.50" x2="141.00" y2="283.50"/><line x1="828.30" y1="283.50" x2="822.30" y2="283.50"/><line x1="135.00" y1="277.66" x2="141.00" y2="277.66"/><line x1="828.30" y1="277.66" x2="822.30" y2="277.66"/><line x1="135.00" y1="272.51" x2="141.00" y2="272.51"/><line x1="828.30" y1="272.51" x2="822.30" y2="272.51"/><line x1="135.00" y1="267.90" x2="146.00" y2="267.90"/><line x1="828.30" y1="267.90" x2="817.30" y2="267.90"/><line x1="135.00" y1="237.59" x2="141.00" y2="237.59"/><line x1="828.30" y1="237.59" x2="822.30" y2="237.59"/><line x1="135.00" y1="219.85" x2="141.00" y2="219.85"/><line x1="828.30" y1="219.85" x2="822.30" y2="219.85"/><line x1="135.00" y1="207.27" x2="141.00" y2="207.27"/><line x1="828.30" y1="207.27" x2="822.30" y2="207.27"/><line x1="135.00" y1="197.51" x2="141.00" y2="197.51"/><line x1="828.30" y1="197.51" x2="822.30" y2="197.51"/><line x1="135.00" y1="189.54" x2="141.00" y2="189.54"/><line x1="828.30" y1="189.54" x2="822.30" y2="189.54"/><line x1="135.00" y1="182.80" x2="141.00" y2="182.80"/><line x1="828.30" y1="182.80" x2="822.30" y2="182.80"/><line x1="135.00" y1="176.96" x2="141.00" y2="176.96"/><line x1="828.30" y1="176.96" x2="822.30" y2="176.96"/><line x1="135.00" y1="171.81" x2="141.00" y2="171.81"/><line x1="828.30" y1="171.81" x2="822.30" y2="171.81"/><line x1="135.00" y1="167.20" x2="146.00" y2="167.20"/><line x1="828.30" y1="167.20" x2="817.30" y2="167.20"/><line x1="135.00" y1="136.89" x2="141.00" y2="136.89"/><line x1="828.30" y1="136.89" x2="822.30" y2="136.89"/><line x1="135.00" y1="119.15" x2="141.00" y2="119.15"/><line x1="828.30" y1="119.15" x2="822.30" y2="119.15"/><line x1="135.00" y1="106.57" x2="141.00" y2="106.57"/><line x1="828.30" y1="106.57" x2="822.30" y2="106.57"/><line x1="135.00" y1="96.81" x2="141.00" y2="96.81"/><line x1="828.30" y1="96.81" x2="822.30" y2="96.81"/><line x1="135.00" y1="88.84" x2="141.00" y2="88.84"/><line x1="828.30" y1="88.84" x2="822.30" y2="88.84"/><line x1="135.00" y1="82.10" x2="141.00" y2="82.10"/><line x1="828.30" y1="82.10" x2="822.30" y2="82.10"/><line x1="135.00" y1="76.26" x2="141.00" y2="76.26"/><line x1="828.30" y1="76.26" x2="822.30" y2="76.26"/><line x1="135.00" y1="71.11" x2="141.00" y2="71.11"/><line x1="828.30" y1="71.11" x2="822.30" y2="71.11"/><line x1="135.00" y1="66.50" x2="146.00" y2="66.50"/><line x1="828.30" y1="66.50" x2="817.30" y2="66.50"/><line x1="135.00" y1="36.19" x2="141.00" y2="36.19"/><line x1="828.30" y1="36.19" x2="822.30" y2="36.19"/><line x1="135.00" y1="18.45" x2="141.00" y2="18.45"/><line x1="828.30" y1="18.45" x2="822.30" y2="18.45"/><line x1="135.00" y1="5.87" x2="141.00" y2="5.87"/><line x1="828.30" y1="5.87" x2="822.30" y2="5.87"/><line x1="221.70" y1="522.00" x2="221.70" y2="511.00"/><line x1="221.70" y1="5.90" x2="221.70" y2="16.90"/><line x1="308.38" y1="522.00" x2="308.38" y2="516.00"/><line x1="308.38" y1="5.90" x2="308.38" y2="11.90"/><line x1="395.06" y1="522.00" x2="395.06" y2="511.00"/><line x1="395.06" y1="5.90" x2="395.06" y2="16.90"/><line x1="481.74" y1="522.00" x2="481.74" y2="516.00"/><line x1="481.74" y1="5.90" x2="481.74" y2="11.90"/><line x1="568.42" y1="522.00" x2="568.42" y2="511.00"/><line x1="568.42" y1="5.90" x2="568.42" y2="16.90"/><line x1="655.10" y1="522.00" x2="655.10" y2="516.00"/><line x1="655.10" y1="5.90" x2="655.10" y2="11.90"/><line x1="741.78" y1="522.00" x2="741.78" y2="511.00"/><line x1="741.78" y1="5.90" x2="741.78" y2="16.90"/></g>
<rect x="135.00" y="5.90" width="693.30" height="516.10" fill="none" stroke="#000" stroke-width="3"/>
<text x="112.8" y="82.40" text-anchor="end" font-size="40" font-family="Liberation Serif" font-weight="bold">10</text>
<text x="112.0" y="60.10" font-size="24.5" font-family="Liberation Serif" font-weight="bold">7</text>
<text x="112.8" y="183.10" text-anchor="end" font-size="40" font-family="Liberation Serif" font-weight="bold">10</text>
<text x="112.0" y="160.80" font-size="24.5" font-family="Liberation Serif" font-weight="bold">6</text>
<text x="112.8" y="283.80" text-anchor="end" font-size="40" font-family="Liberation Serif" font-weight="bold">10</text>
<text x="112.0" y="261.50" font-size="24.5" font-family="Liberation Serif" font-weight="bold">5</text>
<text x="112.8" y="384.50" text-anchor="end" font-size="40" font-family="Liberation Serif" font-weight="bold">10</text>
<text x="112.0" y="362.20" font-size="24.5" font-family="Liberation Serif" font-weight="bold">4</text>
<text x="112.8" y="485.20" text-anchor="end" font-size="40" font-family="Liberation Serif" font-weight="bold">10</text>
<text x="112.0" y="462.90" font-size="24.5" font-family="Liberation Serif" font-weight="bold">3</text>
<text x="222.00" y="563.50" text-anchor="middle" font-size="40" font-family="Liberation Serif" font-weight="bold">0</text>
<text x="395.36" y="563.50" text-anchor="middle" font-size="40" font-family="Liberation Serif" font-weight="bold">200</text>
<text x="568.72" y="563.50" text-anchor="middle" font-size="40" font-family="Liberation Serif" font-weight="bold">400</text>
<text x="742.08" y="563.50" text-anchor="middle" font-size="40" font-family="Liberation Serif" font-weight="bold">600</text>
<text x="266.5" y="618.20" font-size="53" font-family="Liberation Serif" font-weight="bold">Annealing Time (s)</text>
<text transform="translate(50.20 413.30) rotate(-90)" font-size="52.6" font-family="Liberation Serif" font-weight="bold">Rs (&#937;/sq.)</text>
<line x1="582.50" y1="88.20" x2="641.50" y2="88.20" stroke="#008080" stroke-width="7.2" stroke-linecap="round"/>
<rect x="602.70" y="78.70" width="19.00" height="19.00" fill="#008080"/>
<text x="650.00" y="96.70" font-size="27" font-family="Liberation Serif" font-weight="bold" xml:space="preserve">RTA 800 <tspan font-size="18" dy="-12.5">o</tspan><tspan dy="12.5">C</tspan></text>
<line x1="582.50" y1="127.00" x2="641.50" y2="127.00" stroke="#800000" stroke-width="7.2" stroke-linecap="round"/>
<rect x="602.70" y="117.50" width="19.00" height="19.00" fill="#800000"/>
<text x="650.00" y="135.50" font-size="27" font-family="Liberation Serif" font-weight="bold" xml:space="preserve">RTA 900 <tspan font-size="18" dy="-12.5">o</tspan><tspan dy="12.5">C</tspan></text>
<line x1="582.50" y1="166.00" x2="641.50" y2="166.00" stroke="#000000" stroke-width="7.2" stroke-linecap="round"/>
<rect x="602.70" y="156.50" width="19.00" height="19.00" fill="#000000"/>
<text x="650.00" y="174.50" font-size="27" font-family="Liberation Serif" font-weight="bold" xml:space="preserve">RTA 1000 <tspan font-size="18" dy="-12.5">o</tspan><tspan dy="12.5">C</tspan></text>
<line x1="582.50" y1="199.40" x2="641.50" y2="199.40" stroke="#FF00FF" stroke-width="7.2" stroke-linecap="round"/>
<rect x="602.70" y="189.90" width="19.00" height="19.00" fill="#FF00FF"/>
<text x="650.00" y="207.90" font-size="27" font-family="Liberation Serif" font-weight="bold">MWA 2.3 kW</text>
<line x1="582.50" y1="233.00" x2="641.50" y2="233.00" stroke="#FF8000" stroke-width="7.2" stroke-linecap="round"/>
<rect x="602.70" y="223.50" width="19.00" height="19.00" fill="#FF8000"/>
<text x="650.00" y="241.50" font-size="27" font-family="Liberation Serif" font-weight="bold">MWA 2.8 kW</text>
<text x="471.0" y="48.4" font-size="52" font-family="Liberation Serif" font-weight="bold">n-type</text>
<text x="654.0" y="49" font-size="52" font-family="Liberation Serif" font-weight="bold">doping</text>
<text x="716.4" y="485.8" font-size="61" font-family="Liberation Serif" font-weight="bold">(a)</text>
<path d="M273.81 829.72 L274.76 830.90 L275.70 832.08 L276.63 833.27 L277.55 834.47 L278.46 835.68 L279.35 836.89 L280.24 838.11 L281.12 839.33 L281.99 840.56 L282.85 841.80 L283.70 843.04 L284.55 844.28 L285.39 845.53 L286.22 846.78 L287.04 848.03 L287.87 849.29 L288.68 850.55 L289.50 851.82 L290.30 853.09 L291.11 854.36 L291.91 855.63 L292.71 856.90 L293.51 858.18 L294.31 859.45 L295.10 860.73 L295.90 862.01 L296.70 863.29 L297.49 864.56 L298.29 865.84 L299.09 867.12 L299.89 868.40 L300.70 869.67 L301.51 870.95 L302.32 872.22 L303.13 873.49 L303.96 874.76 L304.78 876.03 L305.61 877.29 L306.45 878.55 L307.29 879.81 L308.15 881.06 L309.01 882.31 L309.87 883.56 L310.75 884.80 L311.64 886.04 L312.53 887.27 L313.43 888.50 L314.35 889.72 L315.27 890.94 L316.20 892.14 L317.14 893.35 L318.09 894.54 L319.05 895.73 L320.01 896.92 L320.99 898.09 L321.98 899.26 L322.97 900.42 L323.97 901.57 L324.99 902.71 L326.01 903.84 L327.04 904.96 L328.08 906.07 L329.13 907.18 L330.19 908.27 L331.26 909.35 L332.34 910.42 L333.43 911.48 L334.53 912.53 L335.63 913.57 L336.75 914.59 L337.87 915.60 L339.01 916.60 L340.15 917.59 L341.30 918.56 L342.47 919.52 L343.64 920.47 L344.82 921.40 L346.01 922.32 L347.21 923.22 L348.42 924.11 L349.64 924.98 L350.87 925.83 L352.11 926.67 L353.36 927.50 L354.62 928.31 L355.89 929.10 L357.16 929.87 L358.45 930.63 L359.74 931.37 L361.05 932.09 L362.36 932.80 L363.68 933.49 L365.02 934.17 L366.35 934.83 L367.70 935.47 L369.05 936.10 L370.42 936.72 L371.79 937.32 L373.16 937.91 L374.55 938.48 L375.94 939.04 L377.34 939.58 L378.74 940.11 L380.15 940.63 L381.57 941.13 L383.00 941.62 L384.43 942.10 L385.86 942.57 L387.30 943.02 L388.75 943.46 L390.20 943.89 L391.66 944.30 L393.12 944.71 L394.58 945.10 L396.05 945.48 L397.53 945.85 L399.01 946.21 L400.49 946.56 L401.98 946.90 L403.47 947.23 L404.96 947.54 L406.46 947.85 L407.96 948.15 L409.46 948.44 L410.97 948.72 L412.48 948.99 L413.99 949.25 L415.50 949.50 L417.02 949.75 L418.54 949.98 L420.05 950.21 L421.57 950.43 L423.10 950.64 L424.62 950.84 L426.14 951.04 L427.67 951.23 L429.19 951.41 L430.72 951.59 L432.24 951.76 L433.77 951.92 L435.29 952.08 L436.82 952.23 L438.34 952.37 L439.87 952.51 L441.39 952.65 L442.91 952.78 L444.43 952.90 L445.95 953.02 L447.47 953.14 L448.99 953.25 L450.50 953.35 L452.02 953.46 L453.53 953.55 L455.03 953.65 L456.54 953.74 L458.04 953.83 L459.54 953.91 L461.04 954.00 L462.53 954.08 L464.02 954.15 L465.51 954.23 L466.99 954.30 L468.47 954.38 L469.94 954.45 L471.41 954.51 L472.87 954.58 L474.34 954.65 L475.79 954.71 L477.24 954.78 L478.69 954.84 L480.12 954.91 L481.56 954.97" fill="none" stroke="#008080" stroke-width="7.2" stroke-linejoin="round" stroke-linecap="round"/>
<rect x="264.10" y="820.00" width="19.00" height="19.00" fill="#008080"/>
<rect x="290.20" y="857.50" width="19.00" height="19.00" fill="#008080"/>
<rect x="342.30" y="937.60" width="19.00" height="19.00" fill="#008080"/>
<rect x="472.50" y="945.30" width="19.00" height="19.00" fill="#008080"/>
<path d="M226.37 707.54 L226.47 709.04 L226.56 710.54 L226.66 712.04 L226.75 713.54 L226.84 715.05 L226.92 716.55 L227.01 718.06 L227.09 719.56 L227.17 721.07 L227.25 722.57 L227.32 724.08 L227.40 725.58 L227.47 727.09 L227.54 728.59 L227.61 730.10 L227.68 731.61 L227.74 733.12 L227.81 734.62 L227.87 736.13 L227.93 737.64 L228.00 739.15 L228.06 740.66 L228.12 742.17 L228.18 743.67 L228.24 745.18 L228.30 746.69 L228.35 748.20 L228.41 749.71 L228.47 751.22 L228.53 752.73 L228.58 754.24 L228.64 755.75 L228.70 757.26 L228.76 758.77 L228.82 760.28 L228.88 761.79 L228.94 763.30 L229.00 764.81 L229.06 766.32 L229.12 767.83 L229.18 769.34 L229.24 770.85 L229.31 772.36 L229.37 773.87 L229.44 775.38 L229.51 776.89 L229.58 778.40 L229.65 779.91 L229.72 781.42 L229.80 782.93 L229.88 784.44 L229.95 785.94 L230.04 787.45 L230.12 788.96 L230.20 790.47 L230.29 791.98 L230.38 793.48 L230.47 794.99 L230.57 796.50 L230.66 798.00 L230.76 799.51 L230.87 801.02 L230.97 802.52 L231.08 804.03 L231.19 805.53 L231.31 807.04 L231.43 808.54 L231.55 810.05 L231.67 811.55 L231.80 813.05 L231.93 814.56 L232.07 816.06 L232.21 817.56 L232.36 819.06 L232.50 820.56 L232.66 822.06 L232.81 823.56 L232.97 825.06 L233.14 826.56 L233.30 828.06 L233.47 829.56 L233.65 831.05 L233.83 832.55 L234.01 834.05 L234.19 835.54 L234.38 837.04 L234.57 838.53 L234.77 840.03 L234.97 841.52 L235.17 843.02 L235.37 844.51 L235.58 846.01 L235.79 847.50 L236.00 848.99 L236.21 850.49 L236.43 851.98 L236.65 853.47 L236.87 854.96 L237.10 856.45 L237.32 857.95 L237.55 859.44 L237.78 860.93 L238.02 862.42 L238.25 863.91 L238.49 865.40 L238.73 866.89 L238.97 868.38 L239.21 869.87 L239.46 871.36 L239.70 872.85 L239.95 874.34 L240.20 875.83 L240.45 877.32 L240.70 878.80 L240.95 880.29 L241.20 881.78 L241.46 883.27 L241.71 884.76 L241.97 886.25 L242.22 887.74 L242.48 889.22 L242.74 890.71 L243.00 892.20 L243.26 893.69 L243.52 895.18 L243.78 896.66 L244.04 898.15 L244.30 899.64 L244.56 901.13 L244.82 902.62 L245.09 904.10 L245.35 905.59 L245.61 907.08 L245.87 908.57 L246.13 910.06 L246.39 911.54 L246.65 913.03 L246.91 914.52 L247.17 916.01 L247.43 917.50 L247.68 918.99 L247.94 920.48 L248.20 921.97 L248.45 923.46 L248.70 924.94 L248.96 926.43 L249.21 927.92 L249.46 929.41 L249.71 930.90 L249.96 932.39 L250.20 933.88 L250.45 935.37 L250.69 936.86 L250.94 938.35 L251.18 939.84 L251.42 941.33 L251.66 942.82 L251.89 944.31 L252.13 945.80 L252.36 947.28 L252.59 948.77 L252.82 950.26 L253.05 951.74 L253.28 953.23 L253.52 954.71 L253.76 956.19 L254.00 957.67 L254.26 959.14 L254.54 960.61 L254.83 962.07 L255.13 963.53 L255.46 964.98 L255.81 966.42 L256.19 967.86 L256.59 969.28 L257.02 970.70 L257.49 972.11 L257.99 973.50 L258.53 974.89 L259.11 976.26 L259.73 977.63 L260.38 978.98 L261.06 980.32 L261.77 981.65 L262.51 982.98 L263.27 984.29 L264.05 985.60 L264.85 986.90 L265.67 988.20 L266.49 989.49 L267.33 990.77 L268.17 992.05 L269.02 993.33 L269.87 994.61 L270.72 995.88 L271.56 997.15 L272.40 998.41 L273.24 999.68 L274.08 1000.94 L274.92 1002.18 L275.77 1003.42 L276.63 1004.65 L277.50 1005.86 L278.39 1007.05 L279.30 1008.23 L280.22 1009.38 L281.18 1010.51 L282.16 1011.61 L283.18 1012.69 L284.23 1013.73 L285.32 1014.74 L286.43 1015.73 L287.58 1016.69 L288.74 1017.63 L289.91 1018.57 L291.09 1019.51 L292.25 1020.45 L293.41 1021.40 L294.54 1022.37 L295.65 1023.36 L296.73 1024.37 L297.77 1025.42 L298.79 1026.49 L299.77 1027.58 L300.73 1028.70 L301.66 1029.85 L302.55 1031.02 L303.43 1032.22 L304.28 1033.43 L305.10 1034.67 L305.91 1035.93 L306.71 1037.20 L307.49 1038.48 L308.25 1039.77 L309.01 1041.08 L309.77 1042.39 L310.52 1043.71 L311.27 1045.03 L312.02 1046.35 L312.78 1047.67 L313.54 1048.98 L314.32 1050.30 L315.10 1051.60 L315.90 1052.90 L316.72 1054.18 L317.56 1055.45 L318.41 1056.71 L319.29 1057.95 L320.18 1059.18 L321.09 1060.40 L322.02 1061.60 L322.97 1062.78 L323.93 1063.94 L324.92 1065.08 L325.92 1066.21 L326.95 1067.32 L327.99 1068.40 L329.05 1069.47 L330.13 1070.51 L331.23 1071.53 L332.35 1072.52 L333.49 1073.50 L334.65 1074.44 L335.83 1075.36 L337.03 1076.26 L338.24 1077.13 L339.48 1077.97 L340.74 1078.78 L342.01 1079.56 L343.31 1080.31 L344.62 1081.04 L345.96 1081.73 L347.31 1082.39 L348.69 1083.01 L350.09 1083.60 L351.50 1084.16" fill="none" stroke="#800000" stroke-width="7.2" stroke-linejoin="round" stroke-linecap="round"/>
<rect x="216.40" y="698.00" width="19.00" height="19.00" fill="#800000"/>
<rect x="220.80" y="798.00" width="19.00" height="19.00" fill="#800000"/>
<rect x="229.60" y="867.80" width="19.00" height="19.00" fill="#800000"/>
<rect x="238.30" y="906.40" width="19.00" height="19.00" fill="#800000"/>
<rect x="247.10" y="960.50" width="19.00" height="19.00" fill="#800000"/>
<rect x="264.80" y="991.70" width="19.00" height="19.00" fill="#800000"/>
<rect x="290.20" y="1015.80" width="19.00" height="19.00" fill="#800000"/>
<rect x="316.30" y="1057.00" width="19.00" height="19.00" fill="#800000"/>
<rect x="342.30" y="1075.30" width="19.00" height="19.00" fill="#800000"/>
<path d="M226.23 812.50 L226.28 814.01 L226.33 815.52 L226.39 817.02 L226.46 818.53 L226.52 820.04 L226.59 821.55 L226.67 823.05 L226.74 824.56 L226.82 826.07 L226.89 827.57 L226.97 829.08 L227.05 830.58 L227.13 832.09 L227.22 833.59 L227.30 835.10 L227.38 836.60 L227.46 838.11 L227.54 839.61 L227.62 841.12 L227.70 842.62 L227.78 844.13 L227.85 845.63 L227.93 847.14 L228.00 848.65 L228.07 850.15 L228.14 851.66 L228.20 853.17 L228.26 854.68 L228.33 856.19 L228.39 857.70 L228.45 859.20 L228.51 860.71 L228.57 862.22 L228.63 863.73 L228.69 865.24 L228.75 866.75 L228.81 868.26 L228.86 869.77 L228.92 871.28 L228.98 872.79 L229.05 874.29 L229.11 875.80 L229.17 877.31 L229.24 878.82 L229.30 880.33 L229.37 881.83 L229.44 883.34 L229.52 884.84 L229.59 886.35 L229.68 887.85 L229.76 889.36 L229.85 890.86 L229.95 892.36 L230.06 893.86 L230.17 895.36 L230.29 896.86 L230.41 898.36 L230.55 899.86 L230.69 901.35 L230.85 902.85 L231.02 904.34 L231.19 905.83 L231.38 907.32 L231.59 908.80 L231.80 910.29 L232.03 911.77 L232.27 913.25 L232.53 914.73 L232.80 916.21 L233.08 917.68 L233.37 919.15 L233.67 920.63 L233.98 922.10 L234.29 923.57 L234.60 925.04 L234.91 926.52 L235.21 927.99 L235.52 929.47 L235.81 930.95 L236.10 932.43 L236.37 933.91 L236.63 935.39 L236.88 936.88 L237.11 938.38 L237.32 939.87 L237.51 941.37 L237.68 942.88 L237.84 944.38 L237.99 945.89 L238.12 947.40 L238.26 948.91 L238.39 950.42 L238.53 951.92 L238.67 953.42 L238.82 954.92 L238.99 956.41 L239.17 957.89 L239.37 959.36 L239.60 960.83 L239.86 962.28 L240.14 963.73 L240.47 965.16 L240.83 966.58 L241.23 967.99 L241.67 969.38 L242.17 970.75 L242.72 972.11 L243.31 973.46 L243.94 974.79 L244.60 976.11 L245.30 977.42 L246.02 978.72 L246.76 980.02 L247.51 981.31 L248.27 982.61 L249.03 983.90 L249.80 985.20 L250.55 986.50 L251.31 987.80 L252.05 989.11 L252.79 990.42 L253.52 991.73 L254.24 993.06 L254.95 994.39 L255.64 995.73 L256.33 997.07 L256.99 998.42 L257.65 999.78 L258.29 1001.15 L258.91 1002.53 L259.53 1003.91 L260.14 1005.30 L260.73 1006.69 L261.32 1008.08 L261.90 1009.48 L262.48 1010.89 L263.05 1012.30 L263.61 1013.70 L264.17 1015.11 L264.73 1016.53 L265.29 1017.94 L265.84 1019.35 L266.40 1020.76 L266.95 1022.18 L267.51 1023.59 L268.08 1024.99 L268.64 1026.40 L269.21 1027.80 L269.79 1029.20 L270.37 1030.59 L270.97 1031.98 L271.57 1033.37 L272.18 1034.74 L272.80 1036.11 L273.43 1037.48 L274.07 1038.84 L274.73 1040.18 L275.41 1041.52 L276.09 1042.85 L276.80 1044.17 L277.52 1045.49 L278.26 1046.78 L279.02 1048.07 L279.80 1049.35 L280.60 1050.61 L281.42 1051.86 L282.26 1053.10 L283.13 1054.32 L284.01 1055.53 L284.92 1056.73 L285.84 1057.91 L286.78 1059.08 L287.74 1060.24 L288.72 1061.38 L289.72 1062.50 L290.74 1063.61 L291.77 1064.71 L292.82 1065.79 L293.88 1066.85 L294.96 1067.90 L296.06 1068.93 L297.17 1069.95 L298.29 1070.95 L299.43 1071.93 L300.58 1072.90 L301.74 1073.85 L302.92 1074.79 L304.10 1075.72 L305.30 1076.63 L306.50 1077.53 L307.71 1078.43 L308.92 1079.31 L310.14 1080.20 L311.36 1081.07 L312.59 1081.95 L313.81 1082.82 L315.04 1083.70 L316.26 1084.58 L317.48 1085.46 L318.70 1086.34 L319.91 1087.23 L321.12 1088.13 L322.32 1089.04 L323.51 1089.96 L324.69 1090.89 L325.86 1091.83 L327.02 1092.79 L328.17 1093.76 L329.31 1094.74 L330.45 1095.73 L331.58 1096.72 L332.71 1097.72 L333.83 1098.72 L334.95 1099.72 L336.08 1100.72 L337.20 1101.72 L338.33 1102.71 L339.46 1103.70 L340.60 1104.67 L341.75 1105.64 L342.90 1106.60 L344.06 1107.54 L345.24 1108.46 L346.43 1109.37 L347.63 1110.25 L348.85 1111.12 L350.08 1111.96 L351.33 1112.77 L352.60 1113.57 L353.89 1114.34 L355.19 1115.09 L356.50 1115.81 L357.83 1116.52 L359.17 1117.21 L360.52 1117.88 L361.88 1118.54 L363.25 1119.17 L364.63 1119.80 L366.02 1120.40 L367.42 1121.00 L368.82 1121.58 L370.23 1122.16 L371.64 1122.72 L373.06 1123.27 L374.48 1123.81 L375.90 1124.35 L377.33 1124.88 L378.75 1125.40 L380.18 1125.92 L381.60 1126.42 L383.03 1126.92 L384.47 1127.42 L385.90 1127.91 L387.33 1128.39 L388.77 1128.86 L390.21 1129.32 L391.65 1129.78 L393.09 1130.24 L394.53 1130.68 L395.98 1131.12 L397.42 1131.55 L398.87 1131.97 L400.32 1132.39 L401.77 1132.80 L403.22 1133.21 L404.67 1133.60 L406.13 1133.99 L407.59 1134.38 L409.04 1134.76 L410.50 1135.13 L411.96 1135.49 L413.43 1135.85 L414.89 1136.20 L416.35 1136.54 L417.82 1136.88 L419.29 1137.21 L420.76 1137.53 L422.23 1137.85 L423.70 1138.16 L425.17 1138.46 L426.65 1138.76 L428.12 1139.05 L429.60 1139.34 L431.08 1139.61 L432.56 1139.89 L434.04 1140.15 L435.52 1140.41 L437.01 1140.66 L438.49 1140.91 L439.98 1141.15 L441.46 1141.38 L442.95 1141.61 L444.44 1141.83 L445.93 1142.04 L447.43 1142.25 L448.92 1142.45 L450.41 1142.65 L451.91 1142.84 L453.41 1143.02 L454.90 1143.20 L456.40 1143.37 L457.90 1143.53 L459.41 1143.69 L460.91 1143.84 L462.41 1143.99 L463.92 1144.13 L465.42 1144.26 L466.93 1144.39 L468.44 1144.51 L469.95 1144.63 L471.46 1144.74 L472.97 1144.84 L474.48 1144.94 L475.99 1145.03 L477.50 1145.12 L479.02 1145.20 L480.54 1145.28 L482.05 1145.34" fill="none" stroke="#000000" stroke-width="7.2" stroke-linejoin="round" stroke-linecap="round"/>
<rect x="216.40" y="802.70" width="19.00" height="19.00" fill="#000000"/>
<rect x="220.80" y="898.70" width="19.00" height="19.00" fill="#000000"/>
<rect x="229.40" y="961.50" width="19.00" height="19.00" fill="#000000"/>
<rect x="238.20" y="969.40" width="19.00" height="19.00" fill="#000000"/>
<rect x="246.80" y="987.40" width="19.00" height="19.00" fill="#000000"/>
<rect x="264.10" y="1042.00" width="19.00" height="19.00" fill="#000000"/>
<rect x="290.20" y="1063.30" width="19.00" height="19.00" fill="#000000"/>
<rect x="316.30" y="1081.10" width="19.00" height="19.00" fill="#000000"/>
<rect x="342.30" y="1130.40" width="19.00" height="19.00" fill="#000000"/>
<rect x="472.50" y="1136.00" width="19.00" height="19.00" fill="#000000"/>
<path d="M287.03 707.53 L287.61 708.86 L288.19 710.19 L288.77 711.52 L289.36 712.86 L289.94 714.20 L290.53 715.54 L291.11 716.89 L291.70 718.24 L292.29 719.59 L292.89 720.94 L293.48 722.30 L294.08 723.66 L294.68 725.02 L295.28 726.39 L295.89 727.75 L296.50 729.12 L297.11 730.49 L297.72 731.85 L298.34 733.22 L298.96 734.59 L299.59 735.96 L300.22 737.33 L300.85 738.70 L301.49 740.07 L302.14 741.44 L302.78 742.81 L303.44 744.18 L304.10 745.55 L304.76 746.91 L305.43 748.27 L306.10 749.63 L306.78 750.99 L307.47 752.35 L308.16 753.70 L308.85 755.06 L309.56 756.41 L310.27 757.75 L310.99 759.09 L311.71 760.43 L312.44 761.77 L313.18 763.10 L313.93 764.42 L314.68 765.75 L315.44 767.07 L316.21 768.38 L316.99 769.69 L317.77 770.99 L318.56 772.29 L319.36 773.58 L320.17 774.86 L320.99 776.14 L321.81 777.41 L322.65 778.68 L323.49 779.94 L324.34 781.19 L325.20 782.44 L326.07 783.68 L326.95 784.91 L327.84 786.13 L328.73 787.34 L329.64 788.55 L330.55 789.75 L331.47 790.94 L332.41 792.12 L333.35 793.29 L334.30 794.45 L335.26 795.60 L336.24 796.74 L337.22 797.87 L338.21 799.00 L339.21 800.11 L340.22 801.21 L341.24 802.30 L342.27 803.37 L343.32 804.44 L344.37 805.50 L345.43 806.54 L346.51 807.57 L347.59 808.59 L348.69 809.60 L349.80 810.60 L350.91 811.58 L352.04 812.55 L353.18 813.51 L354.32 814.45 L355.48 815.39 L356.65 816.31 L357.82 817.22 L359.01 818.12 L360.20 819.01 L361.41 819.89 L362.62 820.75 L363.84 821.61 L365.07 822.45 L366.31 823.28 L367.55 824.10 L368.81 824.91 L370.07 825.71 L371.34 826.49 L372.62 827.27 L373.90 828.04 L375.19 828.79 L376.49 829.54 L377.79 830.27 L379.10 831.00 L380.42 831.71 L381.74 832.41 L383.07 833.11 L384.41 833.79 L385.75 834.46 L387.10 835.13 L388.45 835.78 L389.81 836.42 L391.17 837.06 L392.54 837.68 L393.91 838.30 L395.29 838.90 L396.67 839.50 L398.06 840.09 L399.45 840.67 L400.84 841.24 L402.24 841.80 L403.64 842.35 L405.04 842.89 L406.45 843.42 L407.86 843.95 L409.27 844.46 L410.69 844.97 L412.11 845.47 L413.53 845.96 L414.96 846.45 L416.38 846.93 L417.81 847.40 L419.25 847.86 L420.68 848.32 L422.12 848.77 L423.56 849.21 L425.00 849.65 L426.45 850.08 L427.89 850.51 L429.34 850.93 L430.79 851.34 L432.24 851.75 L433.70 852.15 L435.15 852.55 L436.61 852.95 L438.07 853.34 L439.53 853.72 L440.99 854.10 L442.45 854.48 L443.92 854.85 L445.38 855.23 L446.85 855.59 L448.31 855.96 L449.78 856.32 L451.25 856.68 L452.72 857.03 L454.19 857.38 L455.66 857.74 L457.13 858.08 L458.60 858.43 L460.08 858.78 L461.55 859.12 L463.02 859.46 L464.49 859.81 L465.97 860.15 L467.44 860.49 L468.91 860.83 L470.38 861.17 L471.86 861.51 L473.33 861.84 L474.80 862.18 L476.27 862.52 L477.75 862.85 L479.22 863.19 L480.69 863.52 L482.16 863.86 L483.63 864.19 L485.11 864.52 L486.58 864.85 L488.05 865.19 L489.52 865.52 L491.00 865.85 L492.47 866.18 L493.94 866.51 L495.41 866.83 L496.89 867.16 L498.36 867.49 L499.83 867.82 L501.30 868.14 L502.77 868.47 L504.25 868.79 L505.72 869.12 L507.19 869.44 L508.66 869.76 L510.14 870.08 L511.61 870.41 L513.08 870.73 L514.55 871.05 L516.03 871.37 L517.50 871.69 L518.97 872.01 L520.44 872.33 L521.91 872.65 L523.39 872.96 L524.86 873.28 L526.33 873.60 L527.80 873.91 L529.28 874.23 L530.75 874.54 L532.22 874.86 L533.69 875.17 L535.17 875.49 L536.64 875.80 L538.11 876.11 L539.58 876.42 L541.06 876.74 L542.53 877.05 L544.00 877.36 L545.48 877.67 L546.95 877.98 L548.42 878.29 L549.89 878.60 L551.37 878.91 L552.84 879.21 L554.31 879.52 L555.79 879.83 L557.26 880.14 L558.73 880.44 L560.20 880.75 L561.68 881.05 L563.15 881.36 L564.62 881.66 L566.10 881.97 L567.57 882.27 L569.04 882.58 L570.52 882.88 L571.99 883.18 L573.46 883.48 L574.94 883.79 L576.41 884.09 L577.88 884.39 L579.36 884.69 L580.83 884.99 L582.30 885.29 L583.78 885.59 L585.25 885.89 L586.73 886.19 L588.20 886.49 L589.67 886.79 L591.15 887.09 L592.62 887.39 L594.10 887.68 L595.57 887.98 L597.04 888.28 L598.52 888.58 L599.99 888.87 L601.47 889.17 L602.94 889.46 L604.42 889.76 L605.89 890.06 L607.37 890.35 L608.84 890.65 L610.32 890.94 L611.79 891.24 L613.27 891.53 L614.74 891.82 L616.22 892.12 L617.69 892.41 L619.17 892.70 L620.64 893.00 L622.12 893.29 L623.59 893.58 L625.07 893.87 L626.54 894.17 L628.02 894.46 L629.49 894.75 L630.97 895.04 L632.45 895.33 L633.92 895.62 L635.40 895.92 L636.87 896.21 L638.35 896.50 L639.83 896.79 L641.30 897.08 L642.78 897.37 L644.26 897.66 L645.73 897.95 L647.21 898.24 L648.69 898.53 L650.16 898.82 L651.64 899.10 L653.12 899.39 L654.60 899.68 L656.07 899.97 L657.55 900.26 L659.03 900.55 L660.51 900.84 L661.98 901.13 L663.46 901.41 L664.94 901.70 L666.42 901.99 L667.90 902.28 L669.37 902.57 L670.85 902.85 L672.33 903.14 L673.81 903.43 L675.29 903.72 L676.77 904.00 L678.25 904.29 L679.73 904.58 L681.21 904.87 L682.68 905.15 L684.16 905.44 L685.64 905.73 L687.12 906.01 L688.60 906.30 L690.08 906.59 L691.56 906.88 L693.04 907.16 L694.52 907.45 L696.00 907.74 L697.48 908.02 L698.96 908.31 L700.45 908.60 L701.93 908.89 L703.41 909.17 L704.89 909.46 L706.37 909.75 L707.85 910.03 L709.33 910.32 L710.81 910.61 L712.30 910.90 L713.78 911.18 L715.26 911.47 L716.74 911.76 L718.22 912.05 L719.71 912.33 L721.19 912.62 L722.67 912.91 L724.15 913.20 L725.64 913.48 L727.12 913.77 L728.60 914.06 L730.09 914.35 L731.57 914.64 L733.05 914.93 L734.54 915.21 L736.02 915.50 L737.51 915.79 L738.99 916.08 L740.48 916.37 L741.96 916.66" fill="none" stroke="#FF00FF" stroke-width="7.2" stroke-linejoin="round" stroke-linecap="round"/>
<rect x="276.90" y="698.00" width="19.00" height="19.00" fill="#FF00FF"/>
<rect x="298.80" y="745.70" width="19.00" height="19.00" fill="#FF00FF"/>
<rect x="342.30" y="822.10" width="19.00" height="19.00" fill="#FF00FF"/>
<rect x="472.50" y="857.30" width="19.00" height="19.00" fill="#FF00FF"/>
<rect x="732.30" y="907.50" width="19.00" height="19.00" fill="#FF00FF"/>
<path d="M265.65 818.23 L266.14 819.52 L266.66 820.82 L267.21 822.13 L267.78 823.44 L268.38 824.77 L268.99 826.11 L269.63 827.45 L270.28 828.81 L270.95 830.17 L271.64 831.53 L272.33 832.90 L273.03 834.28 L273.74 835.66 L274.45 837.04 L275.17 838.43 L275.89 839.82 L276.60 841.21 L277.31 842.60 L278.01 844.00 L278.70 845.39 L279.39 846.78 L280.06 848.17 L280.72 849.56 L281.35 850.95 L281.97 852.33 L282.57 853.71 L283.15 855.09 L283.71 856.46 L284.25 857.83 L284.76 859.20 L285.27 860.56 L285.75 861.93 L286.22 863.29 L286.68 864.66 L287.13 866.03 L287.56 867.40 L287.98 868.77 L288.39 870.15 L288.80 871.53 L289.19 872.91 L289.58 874.30 L289.97 875.70 L290.35 877.10 L290.72 878.51 L291.10 879.92 L291.47 881.35 L291.84 882.78 L292.22 884.22 L292.59 885.68 L292.97 887.14 L293.35 888.61 L293.74 890.09 L294.13 891.58 L294.53 893.07 L294.93 894.56 L295.33 896.06 L295.75 897.56 L296.17 899.07 L296.60 900.57 L297.04 902.08 L297.48 903.58 L297.94 905.08 L298.41 906.58 L298.88 908.08 L299.37 909.57 L299.88 911.05 L300.39 912.53 L300.92 914.00 L301.46 915.46 L302.01 916.91 L302.58 918.36 L303.17 919.79 L303.77 921.20 L304.39 922.61 L305.02 924.00 L305.68 925.37 L306.35 926.73 L307.04 928.07 L307.75 929.40 L308.48 930.70 L309.24 931.98 L310.01 933.25 L310.80 934.49 L311.62 935.71 L312.46 936.90 L313.33 938.07 L314.22 939.22 L315.13 940.34 L316.07 941.43 L317.03 942.49 L318.03 943.52 L319.04 944.53 L320.08 945.50 L321.15 946.45 L322.24 947.38 L323.35 948.27 L324.49 949.14 L325.64 949.99 L326.82 950.81 L328.02 951.61 L329.23 952.38 L330.47 953.13 L331.73 953.86 L333.00 954.57 L334.29 955.25 L335.59 955.92 L336.92 956.56 L338.25 957.19 L339.60 957.79 L340.97 958.38 L342.35 958.94 L343.74 959.49 L345.15 960.03 L346.56 960.54 L347.99 961.04 L349.42 961.53 L350.87 962.00 L352.32 962.45 L353.79 962.89 L355.26 963.32 L356.74 963.73 L358.22 964.13 L359.71 964.52 L361.20 964.90 L362.70 965.27 L364.21 965.63 L365.71 965.97 L367.22 966.31 L368.73 966.64 L370.24 966.96 L371.76 967.27 L373.27 967.58 L374.78 967.88 L376.29 968.17 L377.80 968.46 L379.31 968.74 L380.82 969.01 L382.32 969.28 L383.83 969.55 L385.33 969.80 L386.83 970.06 L388.33 970.31 L389.83 970.55 L391.33 970.79 L392.83 971.02 L394.33 971.25 L395.82 971.47 L397.32 971.70 L398.81 971.91 L400.31 972.12 L401.80 972.33 L403.29 972.54 L404.78 972.74 L406.27 972.93 L407.76 973.13 L409.25 973.32 L410.74 973.51 L412.23 973.69 L413.72 973.87 L415.21 974.05 L416.70 974.22 L418.18 974.40 L419.67 974.57 L421.16 974.74 L422.64 974.90 L424.13 975.07 L425.62 975.23 L427.10 975.39 L428.59 975.55 L430.08 975.71 L431.56 975.86 L433.05 976.02 L434.54 976.17 L436.02 976.33 L437.51 976.48 L439.00 976.63 L440.48 976.78 L441.97 976.93 L443.46 977.08 L444.95 977.23 L446.44 977.38 L447.93 977.52 L449.42 977.67 L450.90 977.82 L452.39 977.96 L453.88 978.11 L455.37 978.25 L456.87 978.40 L458.36 978.54 L459.85 978.69 L461.34 978.83 L462.83 978.97 L464.32 979.12 L465.81 979.26 L467.31 979.40 L468.80 979.54 L470.29 979.68 L471.78 979.82 L473.28 979.96 L474.77 980.10 L476.26 980.24 L477.76 980.38 L479.25 980.52 L480.75 980.65 L482.24 980.79 L483.74 980.93 L485.23 981.06 L486.73 981.20 L488.22 981.34 L489.72 981.47 L491.21 981.60 L492.71 981.74 L494.20 981.87 L495.70 982.01 L497.20 982.14 L498.69 982.27 L500.19 982.40 L501.69 982.54 L503.19 982.67 L504.68 982.80 L506.18 982.93 L507.68 983.06 L509.18 983.19 L510.67 983.32 L512.17 983.45 L513.67 983.58 L515.17 983.70 L516.67 983.83 L518.17 983.96 L519.67 984.09 L521.17 984.21 L522.67 984.34 L524.17 984.47 L525.66 984.59 L527.16 984.72 L528.66 984.84 L530.16 984.97 L531.66 985.09 L533.16 985.22 L534.67 985.34 L536.17 985.47 L537.67 985.59 L539.17 985.71 L540.67 985.84 L542.17 985.96 L543.67 986.08 L545.17 986.20 L546.67 986.32 L548.17 986.45 L549.68 986.57 L551.18 986.69 L552.68 986.81 L554.18 986.93 L555.68 987.05 L557.18 987.17 L558.69 987.29 L560.19 987.41 L561.69 987.53 L563.19 987.65 L564.69 987.76 L566.20 987.88 L567.70 988.00 L569.20 988.12 L570.70 988.24 L572.21 988.35 L573.71 988.47 L575.21 988.59 L576.72 988.70 L578.22 988.82 L579.72 988.94 L581.22 989.05 L582.73 989.17 L584.23 989.29 L585.73 989.40 L587.24 989.52 L588.74 989.63 L590.24 989.75 L591.74 989.86 L593.25 989.98 L594.75 990.09 L596.25 990.20 L597.76 990.32 L599.26 990.43 L600.76 990.55 L602.27 990.66 L603.77 990.77 L605.27 990.89 L606.77 991.00 L608.28 991.11 L609.78 991.23 L611.28 991.34 L612.79 991.45 L614.29 991.56 L615.79 991.68 L617.30 991.79 L618.80 991.90 L620.30 992.01 L621.80 992.12 L623.31 992.24 L624.81 992.35 L626.31 992.46 L627.81 992.57 L629.32 992.68 L630.82 992.79 L632.32 992.91 L633.82 993.02 L635.33 993.13 L636.83 993.24 L638.33 993.35 L639.83 993.46 L641.34 993.57 L642.84 993.68 L644.34 993.79 L645.84 993.90 L647.34 994.01 L648.84 994.12 L650.35 994.23 L651.85 994.34 L653.35 994.45 L654.85 994.57 L656.35 994.68 L657.85 994.79 L659.35 994.90 L660.85 995.01 L662.35 995.12 L663.86 995.23 L665.36 995.34 L666.86 995.45 L668.36 995.56 L669.86 995.67 L671.36 995.78 L672.86 995.89 L674.36 996.00 L675.86 996.11 L677.36 996.22 L678.85 996.33 L680.35 996.44 L681.85 996.55 L683.35 996.66 L684.85 996.77 L686.35 996.88 L687.85 996.99 L689.35 997.10 L690.84 997.21 L692.34 997.32 L693.84 997.43 L695.34 997.54 L696.83 997.65 L698.33 997.76 L699.83 997.87 L701.33 997.99 L702.82 998.10 L704.32 998.21 L705.82 998.32 L707.31 998.43 L708.81 998.54 L710.30 998.65 L711.80 998.76 L713.29 998.88 L714.79 998.99 L716.28 999.10 L717.78 999.21 L719.27 999.32 L720.77 999.43 L722.26 999.55 L723.75 999.66 L725.25 999.77 L726.74 999.88 L728.24 1000.00 L729.73 1000.11 L731.22 1000.22 L732.71 1000.34 L734.21 1000.45 L735.70 1000.56 L737.19 1000.68 L738.68 1000.79 L740.17 1000.90 L741.66 1001.02" fill="none" stroke="#FF8000" stroke-width="7.2" stroke-linejoin="round" stroke-linecap="round"/>
<rect x="255.80" y="808.60" width="19.00" height="19.00" fill="#FF8000"/>
<rect x="276.90" y="853.20" width="19.00" height="19.00" fill="#FF8000"/>
<rect x="298.80" y="936.90" width="19.00" height="19.00" fill="#FF8000"/>
<rect x="342.30" y="957.50" width="19.00" height="19.00" fill="#FF8000"/>
<rect x="472.50" y="973.80" width="19.00" height="19.00" fill="#FF8000"/>
<rect x="732.30" y="991.50" width="19.00" height="19.00" fill="#FF8000"/>
<g stroke="#000" stroke-width="2.6" fill="none"><line x1="135.30" y1="1177.76" x2="141.30" y2="1177.76"/><line x1="828.20" y1="1177.76" x2="822.20" y2="1177.76"/><line x1="135.30" y1="1155.09" x2="141.30" y2="1155.09"/><line x1="828.20" y1="1155.09" x2="822.20" y2="1155.09"/><line x1="135.30" y1="1139.01" x2="141.30" y2="1139.01"/><line x1="828.20" y1="1139.01" x2="822.20" y2="1139.01"/><line x1="135.30" y1="1126.54" x2="141.30" y2="1126.54"/><line x1="828.20" y1="1126.54" x2="822.20" y2="1126.54"/><line x1="135.30" y1="1116.35" x2="141.30" y2="1116.35"/><line x1="828.20" y1="1116.35" x2="822.20" y2="1116.35"/><line x1="135.30" y1="1107.74" x2="141.30" y2="1107.74"/><line x1="828.20" y1="1107.74" x2="822.20" y2="1107.74"/><line x1="135.30" y1="1100.27" x2="141.30" y2="1100.27"/><line x1="828.20" y1="1100.27" x2="822.20" y2="1100.27"/><line x1="135.30" y1="1093.69" x2="141.30" y2="1093.69"/><line x1="828.20" y1="1093.69" x2="822.20" y2="1093.69"/><line x1="135.30" y1="1087.80" x2="146.30" y2="1087.80"/><line x1="828.20" y1="1087.80" x2="817.20" y2="1087.80"/><line x1="135.30" y1="1049.06" x2="141.30" y2="1049.06"/><line x1="828.20" y1="1049.06" x2="822.20" y2="1049.06"/><line x1="135.30" y1="1026.39" x2="141.30" y2="1026.39"/><line x1="828.20" y1="1026.39" x2="822.20" y2="1026.39"/><line x1="135.30" y1="1010.31" x2="141.30" y2="1010.31"/><line x1="828.20" y1="1010.31" x2="822.20" y2="1010.31"/><line x1="135.30" y1="997.84" x2="141.30" y2="997.84"/><line x1="828.20" y1="997.84" x2="822.20" y2="997.84"/><line x1="135.30" y1="987.65" x2="141.30" y2="987.65"/><line x1="828.20" y1="987.65" x2="822.20" y2="987.65"/><line x1="135.30" y1="979.04" x2="141.30" y2="979.04"/><line x1="828.20" y1="979.04" x2="822.20" y2="979.04"/><line x1="135.30" y1="971.57" x2="141.30" y2="971.57"/><line x1="828.20" y1="971.57" x2="822.20" y2="971.57"/><line x1="135.30" y1="964.99" x2="141.30" y2="964.99"/><line x1="828.20" y1="964.99" x2="822.20" y2="964.99"/><line x1="135.30" y1="959.10" x2="146.30" y2="959.10"/><line x1="828.20" y1="959.10" x2="817.20" y2="959.10"/><line x1="135.30" y1="920.36" x2="141.30" y2="920.36"/><line x1="828.20" y1="920.36" x2="822.20" y2="920.36"/><line x1="135.30" y1="897.69" x2="141.30" y2="897.69"/><line x1="828.20" y1="897.69" x2="822.20" y2="897.69"/><line x1="135.30" y1="881.61" x2="141.30" y2="881.61"/><line x1="828.20" y1="881.61" x2="822.20" y2="881.61"/><line x1="135.30" y1="869.14" x2="141.30" y2="869.14"/><line x1="828.20" y1="869.14" x2="822.20" y2="869.14"/><line x1="135.30" y1="858.95" x2="141.30" y2="858.95"/><line x1="828.20" y1="858.95" x2="822.20" y2="858.95"/><line x1="135.30" y1="850.34" x2="141.30" y2="850.34"/><line x1="828.20" y1="850.34" x2="822.20" y2="850.34"/><line x1="135.30" y1="842.87" x2="141.30" y2="842.87"/><line x1="828.20" y1="842.87" x2="822.20" y2="842.87"/><line x1="135.30" y1="836.29" x2="141.30" y2="836.29"/><line x1="828.20" y1="836.29" x2="822.20" y2="836.29"/><line x1="135.30" y1="830.40" x2="146.30" y2="830.40"/><line x1="828.20" y1="830.40" x2="817.20" y2="830.40"/><line x1="135.30" y1="791.66" x2="141.30" y2="791.66"/><line x1="828.20" y1="791.66" x2="822.20" y2="791.66"/><line x1="135.30" y1="768.99" x2="141.30" y2="768.99"/><line x1="828.20" y1="768.99" x2="822.20" y2="768.99"/><line x1="135.30" y1="752.91" x2="141.30" y2="752.91"/><line x1="828.20" y1="752.91" x2="822.20" y2="752.91"/><line x1="135.30" y1="740.44" x2="141.30" y2="740.44"/><line x1="828.20" y1="740.44" x2="822.20" y2="740.44"/><line x1="135.30" y1="730.25" x2="141.30" y2="730.25"/><line x1="828.20" y1="730.25" x2="822.20" y2="730.25"/><line x1="135.30" y1="721.64" x2="141.30" y2="721.64"/><line x1="828.20" y1="721.64" x2="822.20" y2="721.64"/><line x1="135.30" y1="714.17" x2="141.30" y2="714.17"/><line x1="828.20" y1="714.17" x2="822.20" y2="714.17"/><line x1="135.30" y1="707.59" x2="141.30" y2="707.59"/><line x1="828.20" y1="707.59" x2="822.20" y2="707.59"/><line x1="135.30" y1="701.70" x2="146.30" y2="701.70"/><line x1="828.20" y1="701.70" x2="817.20" y2="701.70"/><line x1="135.30" y1="662.96" x2="141.30" y2="662.96"/><line x1="828.20" y1="662.96" x2="822.20" y2="662.96"/><line x1="221.70" y1="1177.50" x2="221.70" y2="1166.50"/><line x1="221.70" y1="662.90" x2="221.70" y2="673.90"/><line x1="308.38" y1="1177.50" x2="308.38" y2="1171.50"/><line x1="308.38" y1="662.90" x2="308.38" y2="668.90"/><line x1="395.06" y1="1177.50" x2="395.06" y2="1166.50"/><line x1="395.06" y1="662.90" x2="395.06" y2="673.90"/><line x1="481.74" y1="1177.50" x2="481.74" y2="1171.50"/><line x1="481.74" y1="662.90" x2="481.74" y2="668.90"/><line x1="568.42" y1="1177.50" x2="568.42" y2="1166.50"/><line x1="568.42" y1="662.90" x2="568.42" y2="673.90"/><line x1="655.10" y1="1177.50" x2="655.10" y2="1171.50"/><line x1="655.10" y1="662.90" x2="655.10" y2="668.90"/><line x1="741.78" y1="1177.50" x2="741.78" y2="1166.50"/><line x1="741.78" y1="662.90" x2="741.78" y2="673.90"/></g>
<rect x="135.30" y="662.90" width="692.90" height="514.60" fill="none" stroke="#000" stroke-width="3"/>
<text x="112.8" y="717.60" text-anchor="end" font-size="40" font-family="Liberation Serif" font-weight="bold">10</text>
<text x="112.0" y="695.30" font-size="24.5" font-family="Liberation Serif" font-weight="bold">6</text>
<text x="112.8" y="846.30" text-anchor="end" font-size="40" font-family="Liberation Serif" font-weight="bold">10</text>
<text x="112.0" y="824.00" font-size="24.5" font-family="Liberation Serif" font-weight="bold">5</text>
<text x="112.8" y="975.00" text-anchor="end" font-size="40" font-family="Liberation Serif" font-weight="bold">10</text>
<text x="112.0" y="952.70" font-size="24.5" font-family="Liberation Serif" font-weight="bold">4</text>
<text x="112.8" y="1103.70" text-anchor="end" font-size="40" font-family="Liberation Serif" font-weight="bold">10</text>
<text x="112.0" y="1081.40" font-size="24.5" font-family="Liberation Serif" font-weight="bold">3</text>
<text x="222.00" y="1218.50" text-anchor="middle" font-size="40" font-family="Liberation Serif" font-weight="bold">0</text>
<text x="395.36" y="1218.50" text-anchor="middle" font-size="40" font-family="Liberation Serif" font-weight="bold">200</text>
<text x="568.72" y="1218.50" text-anchor="middle" font-size="40" font-family="Liberation Serif" font-weight="bold">400</text>
<text x="742.08" y="1218.50" text-anchor="middle" font-size="40" font-family="Liberation Serif" font-weight="bold">600</text>
<text x="266.5" y="1268.00" font-size="53" font-family="Liberation Serif" font-weight="bold">Annealing Time (s)</text>
<text transform="translate(44.60 1067.60) rotate(-90)" font-size="52.6" font-family="Liberation Serif" font-weight="bold">Rs (&#937;/sq.)</text>
<line x1="595.80" y1="728.80" x2="655.00" y2="728.80" stroke="#008080" stroke-width="7.2" stroke-linecap="round"/>
<rect x="616.00" y="719.30" width="19.00" height="19.00" fill="#008080"/>
<text x="663.40" y="737.30" font-size="27" font-family="Liberation Serif" font-weight="bold" xml:space="preserve">RTA 800 <tspan font-size="18" dy="-12.5">o</tspan><tspan dy="12.5">C</tspan></text>
<line x1="595.80" y1="767.50" x2="655.00" y2="767.50" stroke="#800000" stroke-width="7.2" stroke-linecap="round"/>
<rect x="616.00" y="758.00" width="19.00" height="19.00" fill="#800000"/>
<text x="663.40" y="776.00" font-size="27" font-family="Liberation Serif" font-weight="bold" xml:space="preserve">RTA 900 <tspan font-size="18" dy="-12.5">o</tspan><tspan dy="12.5">C</tspan></text>
<line x1="595.80" y1="806.30" x2="655.00" y2="806.30" stroke="#000000" stroke-width="7.2" stroke-linecap="round"/>
<rect x="616.00" y="796.80" width="19.00" height="19.00" fill="#000000"/>
<text x="663.40" y="814.80" font-size="27" font-family="Liberation Serif" font-weight="bold" xml:space="preserve">RTA 1000 <tspan font-size="18" dy="-12.5">o</tspan><tspan dy="12.5">C</tspan></text>
<line x1="595.80" y1="839.80" x2="655.00" y2="839.80" stroke="#FF00FF" stroke-width="7.2" stroke-linecap="round"/>
<rect x="616.00" y="830.30" width="19.00" height="19.00" fill="#FF00FF"/>
<text x="663.40" y="848.30" font-size="27" font-family="Liberation Serif" font-weight="bold">MWA 2.3 kW</text>
<line x1="595.80" y1="873.20" x2="655.00" y2="873.20" stroke="#FF8000" stroke-width="7.2" stroke-linecap="round"/>
<rect x="616.00" y="863.70" width="19.00" height="19.00" fill="#FF8000"/>
<text x="663.40" y="881.70" font-size="27" font-family="Liberation Serif" font-weight="bold">MWA 2.8 kW</text>
<text x="476.8" y="701" font-size="52" font-family="Liberation Serif" font-weight="bold">p-type</text>
<text x="661.6" y="701" font-size="52" font-family="Liberation Serif" font-weight="bold">doping</text>
<text x="706.6" y="1126.6" font-size="61" font-family="Liberation Serif" font-weight="bold">(b)</text>
</svg>
</body></html>
